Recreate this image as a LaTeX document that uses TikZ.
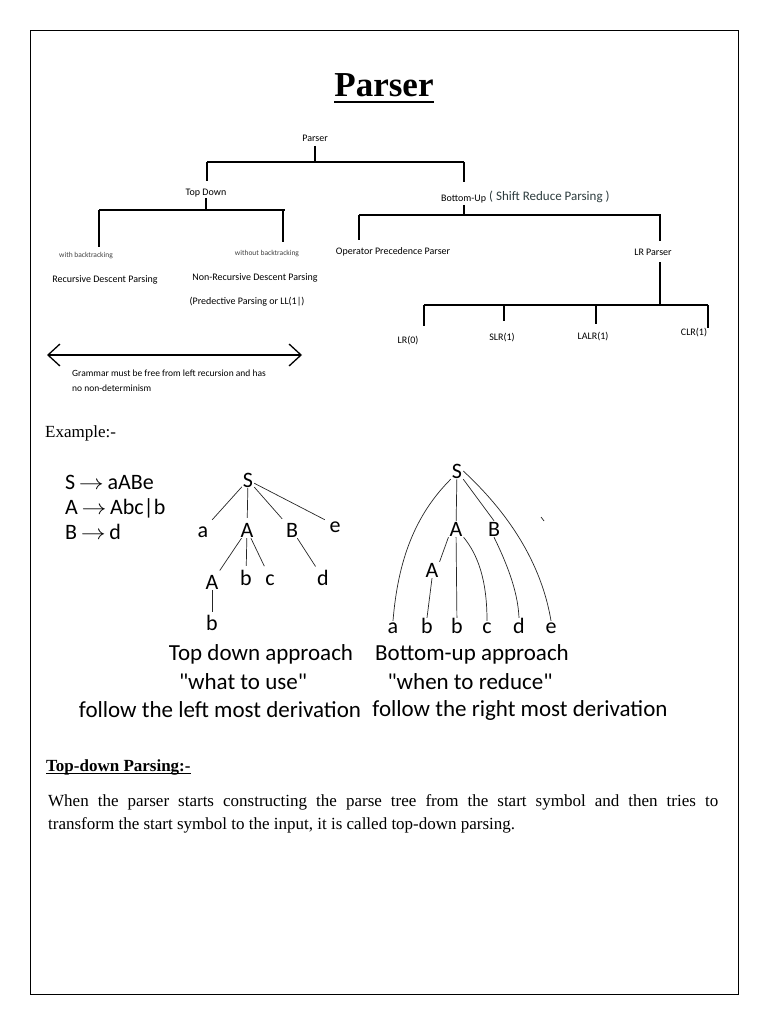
\documentclass[tikz,border=0pt]{standalone}
\usepackage{fontspec}
\setmainfont{Liberation Serif}
\newfontfamily\calib{Carlito}
\usetikzlibrary{arrows.meta}
\definecolor{srpcol}{RGB}{45,60,62}
\newcommand{\garr}{\,\scalebox{1.2}[1]{$\rightarrow$}\,}
\begin{document}
\begin{tikzpicture}[x=1pt,y=-1pt,
  lab/.style={font=\calib\fontsize{10}{12}\selectfont, inner sep=1pt},
  tinylab/.style={font=\calib\fontsize{7.5}{9}\selectfont, inner sep=1pt, text=black!75},
  small/.style={font=\calib\fontsize{9.5}{12}\selectfont, inner sep=0pt, anchor=west},
  sym/.style={font=\calib\fontsize{22}{24}\selectfont, inner sep=1pt, text height=14pt, text depth=0pt},
  rule/.style={font=\calib\fontsize{22}{24}\selectfont, inner sep=0pt, anchor=west},
  captext/.style={font=\calib\fontsize{23}{26}\selectfont, inner sep=0pt},
  serif/.style={font=\fontsize{17}{23}\selectfont, inner sep=0pt},
  bar/.style={line width=2.4pt},
  tline/.style={line width=0.7pt, black!85},
  barb/.tip={Straight Barb[length=12pt,width=22pt]}
]
\useasboundingbox (0,0) rectangle (768,1024);
\draw[line width=1pt] (30,31) rectangle (738,994);

% title
\node[font=\bfseries\fontsize{35}{40}\selectfont, inner sep=0pt, anchor=base] (title) at (384,97) {Parser};
\draw[line width=2.6pt] ([yshift=-5pt]title.base west) -- ([yshift=-5pt]title.base east);

% classification tree
\node[lab] (parser) at (315,138) {Parser};
\coordinate (pj) at (315,162);
\coordinate (pl) at (207,162);
\coordinate (pr) at (464,162);
\coordinate (tdtop) at (207,181);
\coordinate (butop) at (464,182);
\draw[bar] (315,146) -- (pj);
\draw[bar] (pl) -- (pr);
\draw[bar] (pl) -- (tdtop);
\draw[bar] (pr) -- (butop);

\node[lab] (td) at (206,193) {Top Down};
\coordinate (tdj) at (206,210);
\coordinate (tdl) at (99,210);
\coordinate (tdr) at (285,210);
\draw[bar] (td.south) -- (tdj);
\draw[bar] (tdl) -- (tdr);
\draw[bar] (tdl) -- (99,247);
\draw[bar] (283,210) -- (283,242);

\node[tinylab] (wb) at (86,256) {with backtracking};
\node[tinylab] (wob) at (267,254) {without backtracking};
\node[lab] (rdp) at (105,280) {Recursive Descent Parsing};
\node[lab] (nrdp) at (255,278) {Non-Recursive Descent Parsing};
\node[lab] (pp) at (247,302) {(Predective Parsing or LL(1|)};

\coordinate (al) at (47,355);
\coordinate (ar) at (302,355);
\draw[line width=1.3pt, barb-barb] (al) -- (ar);
\node[small] (g1) at (72,373) {Grammar must be free from left recursion and has};
\node[small] (g2) at (72,388) {no non-determinism};

\node[lab, anchor=west, inner sep=0pt] (bu) at (441,199) {Bottom-Up};
\node[font=\calib\fontsize{13}{15}\selectfont, text=srpcol, anchor=west, inner sep=0pt] (srp) at (489,197) {( Shift Reduce Parsing )};
\coordinate (buj) at (464,215);
\coordinate (bul) at (359,215);
\coordinate (bur) at (661,215);
\draw[bar] (464,205) -- (buj);
\draw[bar] (bul) -- (bur);
\draw[bar] (bul) -- (359,240);
\draw[bar] (660,215) -- (660,241);

\node[lab] (opp) at (393,252) {Operator Precedence Parser};
\node[lab] (lrp) at (653,252) {LR Parser};
\coordinate (lrj) at (660,305);
\coordinate (lrl) at (424,305);
\coordinate (lrr) at (708,305);
\draw[bar] (660,262) -- (lrj);
\draw[bar] (lrl) -- (lrr);
\draw[bar] (lrl) -- (424,326);
\draw[bar] (504,305) -- (504,321);
\draw[bar] (596,305) -- (596,324);
\draw[bar] (lrr) -- (708,328);

\node[lab] (lr0) at (408,341) {LR(0)};
\node[lab] (slr) at (502,338) {SLR(1)};
\node[lab] (lalr) at (593,337) {LALR(1)};
\node[lab] (clr) at (694,333) {CLR(1)};

% example
\node[serif, anchor=west] (ex) at (45,433) {Example:-};

\node[rule] (r1) at (65,482) {S\garr aABe};
\node[rule] (r2) at (65,508) {A\garr Abc|b};
\node[rule] (r3) at (65,532) {B\garr d};

% top-down tree
\node[sym] (S1) at (248,480) {S};
\node[sym] (a1) at (203,530) {a};
\node[sym] (A1) at (247,530) {A};
\node[sym] (B1) at (292,530) {B};
\node[sym] (e1) at (335,525) {e};
\node[sym] (A2) at (212,582) {A};
\node[sym] (b1) at (246,578) {b};
\node[sym] (c1) at (270,578) {c};
\node[sym] (d1) at (323,578) {d};
\node[sym] (b2) at (212,623) {b};
\draw[tline, shorten >=4pt] (S1) -- (a1);
\draw[tline, shorten >=4pt] (S1) -- (A1);
\draw[tline, shorten >=4pt] (S1) -- (B1);
\draw[tline, shorten >=4pt] (S1) -- (e1);
\draw[tline, shorten >=4pt] (A1) -- (A2);
\draw[tline, shorten >=4pt] (A1) -- (b1);
\draw[tline, shorten >=4pt] (A1) -- (c1);
\draw[tline, shorten >=4pt] (B1) -- (d1);
\draw[tline, shorten >=3pt] (A2) -- (b2);

% bottom-up tree
\node[sym] (S3) at (457,471) {S};
\node[sym] (A3) at (456,529) {A};
\node[sym] (B3) at (494,529) {B};
\node[sym] (A4) at (432,570) {A};
\node[sym] (a3) at (393,626) {a};
\node[sym] (b3) at (427,626) {b};
\node[sym] (b4) at (457,626) {b};
\node[sym] (c3) at (487,626) {c};
\node[sym] (d3) at (519,626) {d};
\node[sym] (e3) at (551,626) {e};
\draw[tline] (S3.south west) .. controls (415,515) and (398,560) .. ([yshift=-3pt]a3.north);
\draw[tline] (S3) -- (A3);
\draw[tline] (S3.south east) -- (B3.north);
\draw[tline] (S3.east) .. controls (500,505) and (540,555) .. ([yshift=-3pt]e3.north);
\draw[tline] (A3.south west) -- (A4.north east);
\draw[tline] (A3) -- (b4);
\draw[tline] (A3.south east) .. controls (478,555) and (487,580) .. ([yshift=-3pt]c3.north);
\draw[tline] (B3.south) .. controls (510,570) and (518,595) .. (d3.north);
\draw[tline] (A4.south) -- (b3.north);
\draw[tline] (541,517) -- (544,521);

% captions
\node[captext] (c1a) at (261,654) {Top down approach};
\node[captext] (c1b) at (472,654) {Bottom-up approach};
\node[captext] (c2a) at (243,682) {"what to use"};
\node[captext] (c2b) at (470,682) {"when to reduce"};
\node[captext] (c3a) at (220,710) {follow the left most derivation};
\node[captext] (c3b) at (520,710) {follow the right most derivation};

% top-down parsing
\node[serif, font=\bfseries\fontsize{17}{23}\selectfont, anchor=base west] (tdp) at (46,771) {Top-down Parsing:-};
\draw[line width=1.2pt] ([yshift=-2.5pt]tdp.base west) -- ([yshift=-2.5pt]tdp.base east);
\node[serif, anchor=west] (p1) at (48,802) {\makebox[670pt][s]{When the parser starts constructing the parse tree from the start symbol and then tries to}};
\node[serif, anchor=west] (p2) at (48,825) {transform the start symbol to the input, it is called top-down parsing.};
\end{tikzpicture}
\end{document}
